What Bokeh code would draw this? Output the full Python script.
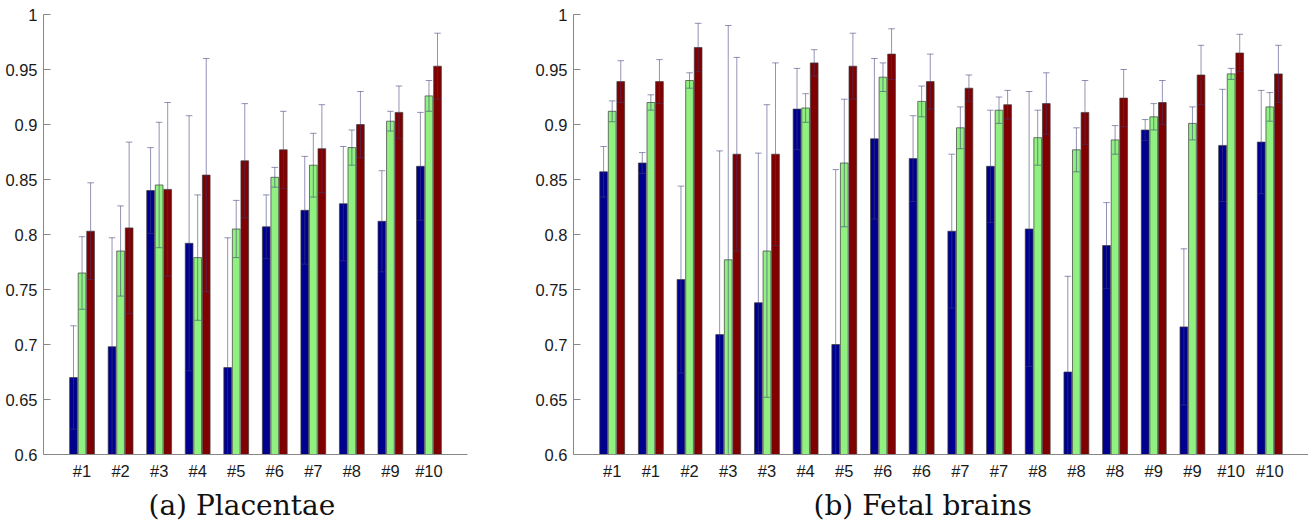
from bokeh.plotting import figure
from bokeh.layouts import row
from bokeh.models import Range1d, FixedTicker, Title, ColumnDataSource
from bokeh.embed import file_html
from bokeh.resources import INLINE

# ---------------- data: (a) Placentae ----------------
left_labels = ["#1", "#2", "#3", "#4", "#5", "#6", "#7", "#8", "#9", "#10"]
left_blue = [0.670, 0.698, 0.840, 0.792, 0.679, 0.807, 0.822, 0.828, 0.812, 0.862]
left_blue_err = [0.047, 0.099, 0.039, 0.116, 0.118, 0.029, 0.049, 0.052, 0.046, 0.049]
left_green = [0.765, 0.785, 0.845, 0.779, 0.805, 0.852, 0.863, 0.879, 0.903, 0.926]
left_green_err = [0.033, 0.041, 0.057, 0.057, 0.026, 0.009, 0.029, 0.016, 0.009, 0.014]
left_red = [0.803, 0.806, 0.841, 0.854, 0.867, 0.877, 0.878, 0.900, 0.911, 0.953]
left_red_err = [0.044, 0.078, 0.079, 0.106, 0.052, 0.035, 0.040, 0.030, 0.024, 0.030]

# ---------------- data: (b) Fetal brains ----------------
right_labels = ["#1", "#1", "#2", "#3", "#3", "#4", "#5", "#6", "#6", "#7", "#7",
                "#8", "#8", "#8", "#9", "#9", "#10", "#10"]
right_blue = [0.857, 0.865, 0.759, 0.709, 0.738, 0.914, 0.700, 0.887, 0.869, 0.803,
              0.862, 0.805, 0.675, 0.790, 0.895, 0.716, 0.881, 0.884]
right_blue_err = [0.023, 0.0095, 0.085, 0.167, 0.136, 0.037, 0.159, 0.073, 0.039, 0.070,
                  0.051, 0.125, 0.087, 0.039, 0.0095, 0.071, 0.051, 0.047]
right_green = [0.912, 0.920, 0.940, 0.777, 0.785, 0.915, 0.865, 0.943, 0.921, 0.897,
               0.913, 0.888, 0.877, 0.886, 0.907, 0.901, 0.946, 0.916]
right_green_err = [0.0095, 0.007, 0.007, 0.213, 0.133, 0.013, 0.058, 0.013, 0.014, 0.019,
                   0.012, 0.025, 0.020, 0.013, 0.012, 0.015, 0.005, 0.013]
right_red = [0.939, 0.939, 0.970, 0.873, 0.873, 0.956, 0.953, 0.964, 0.939, 0.933,
             0.918, 0.919, 0.911, 0.924, 0.920, 0.945, 0.965, 0.946]
right_red_err = [0.019, 0.020, 0.022, 0.088, 0.083, 0.012, 0.030, 0.023, 0.025, 0.012,
                 0.013, 0.028, 0.029, 0.026, 0.020, 0.027, 0.017, 0.026]

y_ticks = [0.6, 0.65, 0.7, 0.75, 0.8, 0.85, 0.9, 0.95, 1.0]
y_tick_labels = ["0.6", "0.65", "0.7", "0.75", "0.8", "0.85", "0.9", "0.95", "1"]

colors = ["#00008F", "#90F080", "#800000"]
BAR_W = 0.2
OFFS = [-0.222, 0.0, 0.222]
CAP = 0.17
ERR_COLOR = "#3a3a78"


def make_panel(labels, series, errs, caption, frame_w, lb, rb, cap_offset):
    n = len(labels)
    p = figure(width=lb + frame_w + rb, height=525, x_range=Range1d(0, n + 1),
               y_range=Range1d(0.6, 1.0), output_backend="svg",
               toolbar_location=None, min_border_left=lb, min_border_right=rb,
               min_border_top=14, min_border_bottom=62)
    p.title.visible = False
    p.outline_line_color = None
    p.grid.grid_line_color = None
    p.background_fill_color = "white"
    p.border_fill_color = "white"

    xs = list(range(1, n + 1))
    for vals, err, col, off in zip(series, errs, colors, OFFS):
        x = [xi + off for xi in xs]
        src = ColumnDataSource(dict(
            x=x, top=vals,
            lo=[v - e for v, e in zip(vals, err)],
            hi=[v + e for v, e in zip(vals, err)],
            xl=[xi - CAP / 2 for xi in x],
            xr=[xi + CAP / 2 for xi in x],
        ))
        p.vbar(x="x", top="top", bottom=0, width=BAR_W, source=src,
               fill_color=col, line_color="#3c3c3c", line_width=0.7)
        p.segment(x0="x", y0="lo", x1="x", y1="hi", source=src,
                  line_color=ERR_COLOR, line_alpha=0.55, line_width=1)
        p.segment(x0="xl", y0="hi", x1="xr", y1="hi", source=src,
                  line_color=ERR_COLOR, line_alpha=0.55, line_width=1)
        p.segment(x0="xl", y0="lo", x1="xr", y1="lo", source=src,
                  line_color=ERR_COLOR, line_alpha=0.55, line_width=1)

    # axes
    p.xaxis.ticker = FixedTicker(ticks=xs)
    p.xaxis.major_label_overrides = {x: l for x, l in zip(xs, labels)}
    p.xaxis.major_tick_line_color = None
    p.xaxis.major_tick_in = 0
    p.xaxis.major_tick_out = 0
    p.xaxis.minor_tick_line_color = None
    p.xaxis.major_label_standoff = 7
    p.yaxis.ticker = FixedTicker(ticks=y_ticks)
    p.yaxis.major_label_overrides = {t: l for t, l in zip(y_ticks, y_tick_labels)}
    p.yaxis.major_tick_in = 7
    p.yaxis.major_tick_out = 0
    p.yaxis.minor_tick_line_color = None
    p.yaxis.major_tick_line_color = "#888888"
    p.yaxis.major_label_standoff = 6
    for ax in (p.xaxis, p.yaxis):
        ax.axis_line_color = "#888888"
        ax.major_label_text_font = "Liberation Sans"
        ax.major_label_text_font_size = "16.5px"
        ax.major_label_text_color = "#1a1a1a"

    t = Title(text=caption, align="left", text_font="DejaVu Serif",
              text_font_size="28px", text_font_style="normal",
              text_color="#111111", offset=cap_offset, standoff=8)
    p.add_layout(t, "below")
    return p


p1 = make_panel(left_labels, [left_blue, left_green, left_red],
                [left_blue_err, left_green_err, left_red_err],
                "(a) Placentae", 424, 43, 10, 105)
p2 = make_panel(right_labels, [right_blue, right_green, right_red],
                [right_blue_err, right_green_err, right_red_err],
                "(b) Fetal brains", 735, 96, 0, 240)

layout = row(p1, p2, spacing=0)
open("out.html", "w").write(file_html(layout, INLINE))
